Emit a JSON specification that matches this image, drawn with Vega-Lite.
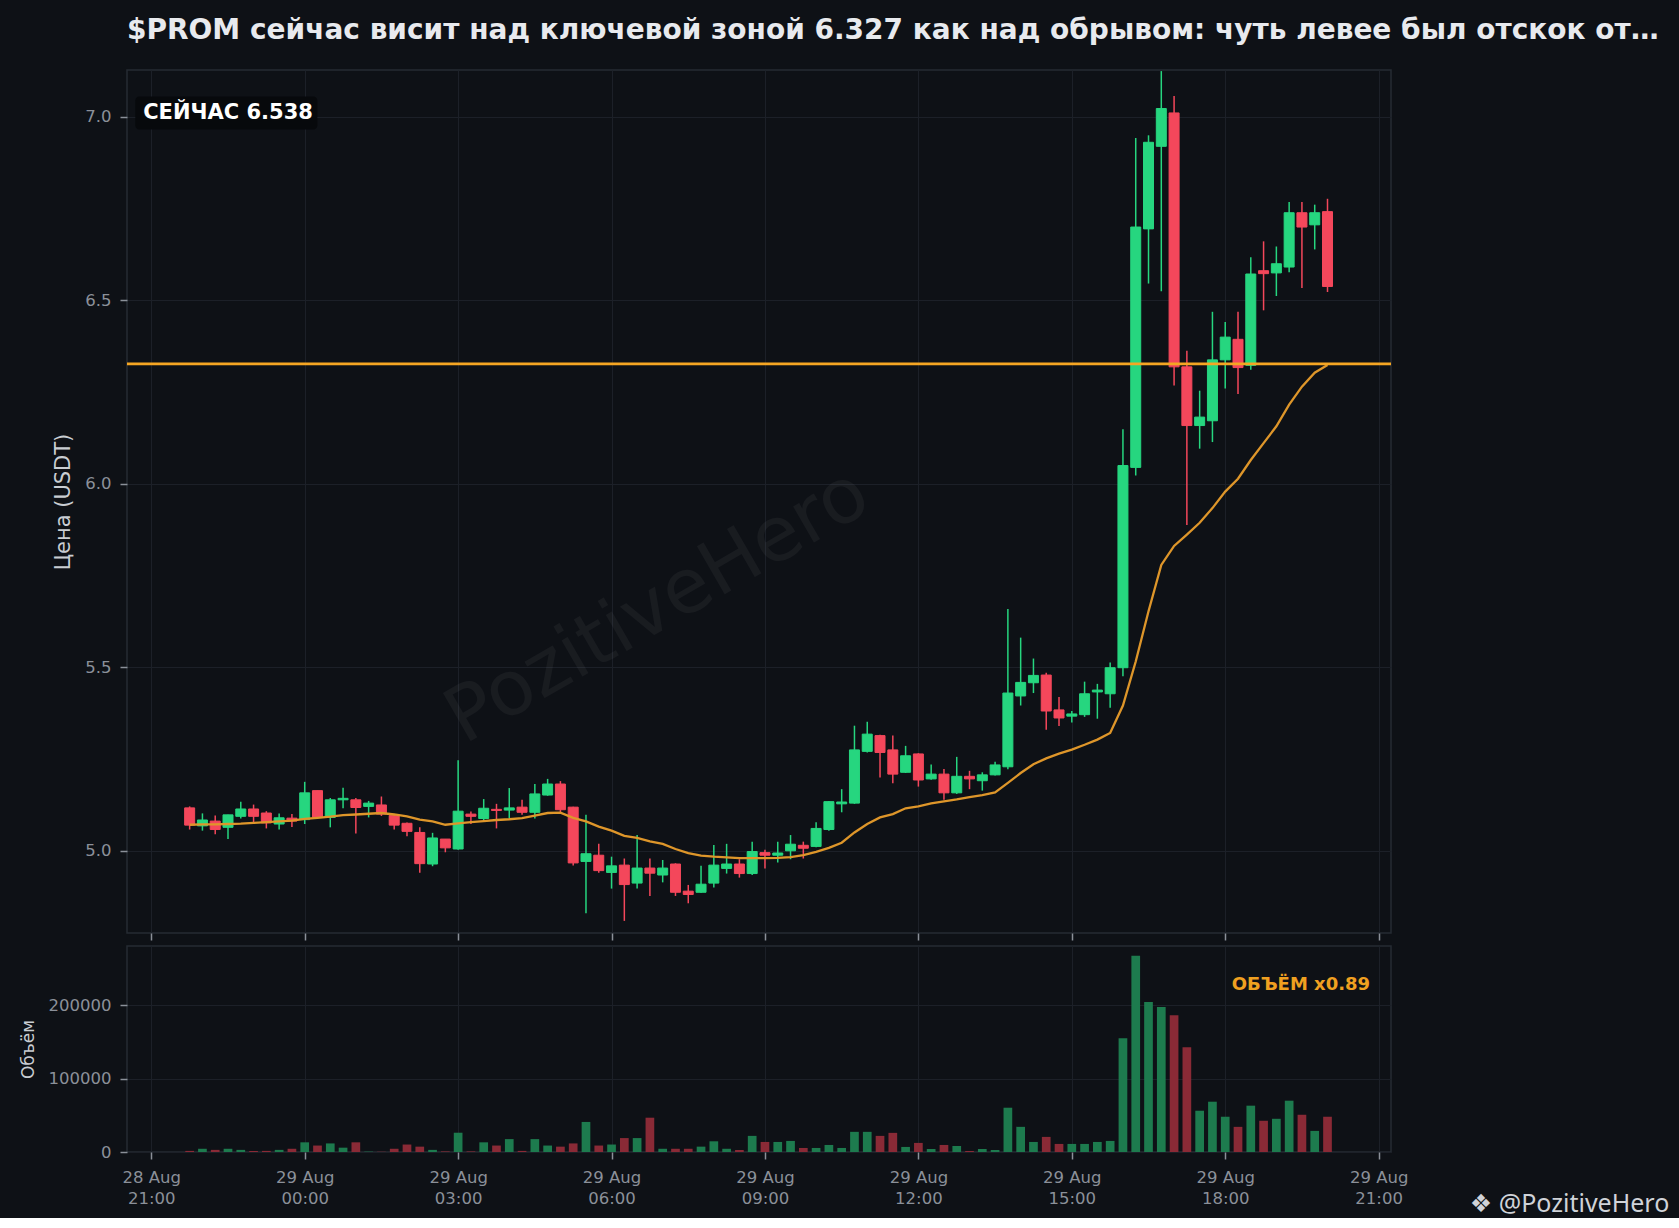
{
  "$schema": "https://vega.github.io/schema/vega-lite/v6.json",
  "background": "#0e1116",
  "padding": {"left": 18, "top": 16, "right": 12, "bottom": 0},
  "spacing": 3,
  "config": {
    "view": {"stroke": "#262b33", "strokeWidth": 1.5, "fill": "#0e1116"},
    "scale": {"continuousPadding": 0},
    "axis": {
      "domain": false,
      "labelFont": "DejaVu Sans",
      "labelFontSize": 16.5,
      "labelColor": "#8b9099",
      "tickColor": "#8b9099",
      "tickSize": 7,
      "tickWidth": 1.5,
      "labelPadding": 9,
      "labelFlush": false,
      "labelOverlap": false,
      "gridColor": "#1c2028",
      "gridWidth": 1,
      "titleFont": "DejaVu Sans",
      "titleFontWeight": "normal",
      "titleColor": "#c9cdd2",
      "titlePadding": 11
    }
  },
  "datasets": {
    "candles": [
      {"t":"2025-08-28T21:45:00Z","o":5.117,"h":5.121,"l":5.058,"c":5.070,"v":1500,"ma":5.071},
      {"t":"2025-08-28T22:00:00Z","o":5.068,"h":5.102,"l":5.055,"c":5.084,"v":4400,"ma":5.072},
      {"t":"2025-08-28T22:15:00Z","o":5.081,"h":5.096,"l":5.045,"c":5.058,"v":2900,"ma":5.072},
      {"t":"2025-08-28T22:30:00Z","o":5.064,"h":5.098,"l":5.032,"c":5.098,"v":4400,"ma":5.073},
      {"t":"2025-08-28T22:45:00Z","o":5.094,"h":5.134,"l":5.088,"c":5.114,"v":2900,"ma":5.074},
      {"t":"2025-08-28T23:00:00Z","o":5.114,"h":5.126,"l":5.078,"c":5.094,"v":1500,"ma":5.076},
      {"t":"2025-08-28T23:15:00Z","o":5.103,"h":5.108,"l":5.061,"c":5.076,"v":1500,"ma":5.078},
      {"t":"2025-08-28T23:30:00Z","o":5.073,"h":5.102,"l":5.058,"c":5.090,"v":2900,"ma":5.080},
      {"t":"2025-08-28T23:45:00Z","o":5.089,"h":5.100,"l":5.065,"c":5.081,"v":4400,"ma":5.082},
      {"t":"2025-08-29T00:00:00Z","o":5.085,"h":5.188,"l":5.073,"c":5.158,"v":13200,"ma":5.087},
      {"t":"2025-08-29T00:15:00Z","o":5.164,"h":5.164,"l":5.089,"c":5.091,"v":8800,"ma":5.090},
      {"t":"2025-08-29T00:30:00Z","o":5.091,"h":5.144,"l":5.064,"c":5.139,"v":11700,"ma":5.093},
      {"t":"2025-08-29T00:45:00Z","o":5.139,"h":5.172,"l":5.116,"c":5.143,"v":5900,"ma":5.097},
      {"t":"2025-08-29T01:00:00Z","o":5.139,"h":5.144,"l":5.047,"c":5.118,"v":13200,"ma":5.099},
      {"t":"2025-08-29T01:15:00Z","o":5.121,"h":5.136,"l":5.091,"c":5.130,"v":500,"ma":5.101},
      {"t":"2025-08-29T01:30:00Z","o":5.125,"h":5.148,"l":5.095,"c":5.100,"v":500,"ma":5.103},
      {"t":"2025-08-29T01:45:00Z","o":5.096,"h":5.097,"l":5.058,"c":5.070,"v":4400,"ma":5.099},
      {"t":"2025-08-29T02:00:00Z","o":5.075,"h":5.077,"l":5.040,"c":5.053,"v":10200,"ma":5.094},
      {"t":"2025-08-29T02:15:00Z","o":5.050,"h":5.064,"l":4.940,"c":4.965,"v":7300,"ma":5.085},
      {"t":"2025-08-29T02:30:00Z","o":4.964,"h":5.049,"l":4.958,"c":5.035,"v":2900,"ma":5.080},
      {"t":"2025-08-29T02:45:00Z","o":5.032,"h":5.032,"l":4.996,"c":5.008,"v":800,"ma":5.071},
      {"t":"2025-08-29T03:00:00Z","o":5.005,"h":5.247,"l":5.003,"c":5.108,"v":26300,"ma":5.075},
      {"t":"2025-08-29T03:15:00Z","o":5.100,"h":5.107,"l":5.073,"c":5.094,"v":800,"ma":5.078},
      {"t":"2025-08-29T03:30:00Z","o":5.088,"h":5.141,"l":5.082,"c":5.116,"v":13200,"ma":5.081},
      {"t":"2025-08-29T03:45:00Z","o":5.113,"h":5.128,"l":5.061,"c":5.110,"v":8800,"ma":5.084},
      {"t":"2025-08-29T04:00:00Z","o":5.111,"h":5.171,"l":5.088,"c":5.117,"v":17600,"ma":5.086},
      {"t":"2025-08-29T04:15:00Z","o":5.119,"h":5.139,"l":5.098,"c":5.105,"v":1500,"ma":5.089},
      {"t":"2025-08-29T04:30:00Z","o":5.105,"h":5.182,"l":5.088,"c":5.155,"v":17600,"ma":5.096},
      {"t":"2025-08-29T04:45:00Z","o":5.152,"h":5.196,"l":5.150,"c":5.182,"v":8800,"ma":5.103},
      {"t":"2025-08-29T05:00:00Z","o":5.182,"h":5.190,"l":5.105,"c":5.112,"v":7300,"ma":5.104},
      {"t":"2025-08-29T05:15:00Z","o":5.119,"h":5.120,"l":4.960,"c":4.967,"v":11700,"ma":5.090},
      {"t":"2025-08-29T05:30:00Z","o":4.971,"h":5.098,"l":4.830,"c":4.992,"v":41000,"ma":5.080},
      {"t":"2025-08-29T05:45:00Z","o":4.988,"h":5.019,"l":4.940,"c":4.946,"v":8800,"ma":5.066},
      {"t":"2025-08-29T06:00:00Z","o":4.941,"h":4.984,"l":4.897,"c":4.959,"v":10200,"ma":5.055},
      {"t":"2025-08-29T06:15:00Z","o":4.961,"h":4.979,"l":4.809,"c":4.908,"v":19000,"ma":5.041},
      {"t":"2025-08-29T06:30:00Z","o":4.912,"h":5.043,"l":4.897,"c":4.953,"v":19000,"ma":5.035},
      {"t":"2025-08-29T06:45:00Z","o":4.953,"h":4.979,"l":4.877,"c":4.939,"v":46800,"ma":5.026},
      {"t":"2025-08-29T07:00:00Z","o":4.934,"h":4.975,"l":4.914,"c":4.953,"v":4400,"ma":5.019},
      {"t":"2025-08-29T07:15:00Z","o":4.964,"h":4.966,"l":4.877,"c":4.887,"v":4400,"ma":5.005},
      {"t":"2025-08-29T07:30:00Z","o":4.890,"h":4.907,"l":4.857,"c":4.881,"v":4400,"ma":4.994},
      {"t":"2025-08-29T07:45:00Z","o":4.887,"h":4.959,"l":4.886,"c":4.909,"v":7300,"ma":4.987},
      {"t":"2025-08-29T08:00:00Z","o":4.912,"h":5.016,"l":4.900,"c":4.961,"v":14600,"ma":4.984},
      {"t":"2025-08-29T08:15:00Z","o":4.952,"h":5.019,"l":4.938,"c":4.964,"v":4400,"ma":4.982},
      {"t":"2025-08-29T08:30:00Z","o":4.964,"h":4.977,"l":4.927,"c":4.938,"v":2700,"ma":4.980},
      {"t":"2025-08-29T08:45:00Z","o":4.938,"h":5.025,"l":4.934,"c":4.998,"v":22000,"ma":4.980},
      {"t":"2025-08-29T09:00:00Z","o":4.995,"h":5.003,"l":4.952,"c":4.988,"v":13700,"ma":4.980},
      {"t":"2025-08-29T09:15:00Z","o":4.988,"h":5.025,"l":4.968,"c":4.994,"v":13700,"ma":4.981},
      {"t":"2025-08-29T09:30:00Z","o":5.000,"h":5.043,"l":4.977,"c":5.018,"v":15100,"ma":4.983},
      {"t":"2025-08-29T09:45:00Z","o":5.015,"h":5.025,"l":4.979,"c":5.007,"v":5500,"ma":4.988},
      {"t":"2025-08-29T10:00:00Z","o":5.012,"h":5.078,"l":5.010,"c":5.061,"v":5500,"ma":4.997},
      {"t":"2025-08-29T10:15:00Z","o":5.058,"h":5.136,"l":5.055,"c":5.134,"v":9600,"ma":5.008},
      {"t":"2025-08-29T10:30:00Z","o":5.128,"h":5.168,"l":5.105,"c":5.133,"v":5500,"ma":5.022},
      {"t":"2025-08-29T10:45:00Z","o":5.130,"h":5.341,"l":5.128,"c":5.275,"v":27500,"ma":5.050},
      {"t":"2025-08-29T11:00:00Z","o":5.271,"h":5.352,"l":5.268,"c":5.318,"v":27500,"ma":5.073},
      {"t":"2025-08-29T11:15:00Z","o":5.314,"h":5.316,"l":5.200,"c":5.268,"v":22000,"ma":5.091},
      {"t":"2025-08-29T11:30:00Z","o":5.275,"h":5.314,"l":5.184,"c":5.209,"v":26100,"ma":5.100},
      {"t":"2025-08-29T11:45:00Z","o":5.214,"h":5.286,"l":5.212,"c":5.259,"v":6900,"ma":5.116},
      {"t":"2025-08-29T12:00:00Z","o":5.264,"h":5.266,"l":5.175,"c":5.193,"v":12400,"ma":5.121},
      {"t":"2025-08-29T12:15:00Z","o":5.196,"h":5.235,"l":5.194,"c":5.209,"v":4100,"ma":5.129},
      {"t":"2025-08-29T12:30:00Z","o":5.209,"h":5.223,"l":5.139,"c":5.158,"v":9600,"ma":5.135},
      {"t":"2025-08-29T12:45:00Z","o":5.158,"h":5.256,"l":5.155,"c":5.203,"v":8200,"ma":5.140},
      {"t":"2025-08-29T13:00:00Z","o":5.203,"h":5.218,"l":5.168,"c":5.196,"v":1400,"ma":5.146},
      {"t":"2025-08-29T13:15:00Z","o":5.191,"h":5.214,"l":5.164,"c":5.207,"v":4100,"ma":5.152},
      {"t":"2025-08-29T13:30:00Z","o":5.207,"h":5.243,"l":5.205,"c":5.234,"v":2700,"ma":5.159},
      {"t":"2025-08-29T13:45:00Z","o":5.229,"h":5.659,"l":5.222,"c":5.430,"v":60400,"ma":5.185},
      {"t":"2025-08-29T14:00:00Z","o":5.422,"h":5.581,"l":5.396,"c":5.459,"v":34300,"ma":5.212},
      {"t":"2025-08-29T14:15:00Z","o":5.458,"h":5.524,"l":5.430,"c":5.478,"v":13700,"ma":5.236},
      {"t":"2025-08-29T14:30:00Z","o":5.479,"h":5.485,"l":5.330,"c":5.381,"v":20600,"ma":5.252},
      {"t":"2025-08-29T14:45:00Z","o":5.384,"h":5.419,"l":5.340,"c":5.362,"v":11000,"ma":5.265},
      {"t":"2025-08-29T15:00:00Z","o":5.367,"h":5.381,"l":5.350,"c":5.373,"v":11000,"ma":5.276},
      {"t":"2025-08-29T15:15:00Z","o":5.371,"h":5.461,"l":5.365,"c":5.428,"v":11000,"ma":5.289},
      {"t":"2025-08-29T15:30:00Z","o":5.433,"h":5.455,"l":5.360,"c":5.438,"v":13700,"ma":5.303},
      {"t":"2025-08-29T15:45:00Z","o":5.428,"h":5.513,"l":5.390,"c":5.499,"v":15100,"ma":5.321},
      {"t":"2025-08-29T16:00:00Z","o":5.499,"h":6.149,"l":5.476,"c":6.050,"v":155100,"ma":5.396},
      {"t":"2025-08-29T16:15:00Z","o":6.045,"h":6.943,"l":6.023,"c":6.700,"v":267700,"ma":5.516},
      {"t":"2025-08-29T16:30:00Z","o":6.695,"h":6.950,"l":6.546,"c":6.931,"v":204600,"ma":5.653},
      {"t":"2025-08-29T16:45:00Z","o":6.920,"h":7.125,"l":6.525,"c":7.023,"v":197700,"ma":5.779},
      {"t":"2025-08-29T17:00:00Z","o":7.011,"h":7.057,"l":6.268,"c":6.319,"v":186700,"ma":5.831},
      {"t":"2025-08-29T17:15:00Z","o":6.319,"h":6.363,"l":5.888,"c":6.159,"v":142800,"ma":5.862},
      {"t":"2025-08-29T17:30:00Z","o":6.159,"h":6.254,"l":6.096,"c":6.182,"v":56300,"ma":5.894},
      {"t":"2025-08-29T17:45:00Z","o":6.172,"h":6.469,"l":6.114,"c":6.338,"v":68600,"ma":5.934},
      {"t":"2025-08-29T18:00:00Z","o":6.338,"h":6.441,"l":6.260,"c":6.400,"v":48100,"ma":5.979},
      {"t":"2025-08-29T18:15:00Z","o":6.394,"h":6.469,"l":6.245,"c":6.317,"v":34300,"ma":6.014},
      {"t":"2025-08-29T18:30:00Z","o":6.323,"h":6.618,"l":6.311,"c":6.572,"v":63200,"ma":6.065},
      {"t":"2025-08-29T18:45:00Z","o":6.581,"h":6.661,"l":6.473,"c":6.573,"v":42600,"ma":6.111},
      {"t":"2025-08-29T19:00:00Z","o":6.575,"h":6.647,"l":6.512,"c":6.600,"v":45300,"ma":6.157},
      {"t":"2025-08-29T19:15:00Z","o":6.591,"h":6.768,"l":6.577,"c":6.739,"v":70000,"ma":6.216},
      {"t":"2025-08-29T19:30:00Z","o":6.739,"h":6.768,"l":6.534,"c":6.700,"v":50800,"ma":6.265},
      {"t":"2025-08-29T19:45:00Z","o":6.706,"h":6.761,"l":6.639,"c":6.739,"v":28800,"ma":6.303},
      {"t":"2025-08-29T20:00:00Z","o":6.742,"h":6.777,"l":6.523,"c":6.538,"v":48100,"ma":6.324}
    ]
  },
  "vconcat": [
    {
      "width": 1264,
      "height": 863,
      "title": {
        "text": "$PROM сейчас висит над ключевой зоной 6.327 как над обрывом: чуть левее был отскок от…",
        "anchor": "start",
        "frame": "group",
        "font": "DejaVu Sans",
        "fontSize": 28,
        "fontWeight": "bold",
        "color": "#e8eaee",
        "baseline": "alphabetic",
        "offset": 3,
        "limit": 1600
      },
      "layer": [
        {
          "data": {"values": [{"t": "2025-08-29T06:54:00Z", "p": 5.666, "label": "PozitiveHero"}]},
          "mark": {"type": "text", "angle": -30, "fontSize": 76, "font": "DejaVu Sans", "color": "#ffffff", "opacity": 0.045, "align": "center", "baseline": "middle"},
          "encoding": {
            "x": {"field": "t", "type": "temporal", "scale": {"type": "utc", "nice": false, "padding": 0, "domain": [{"year":2025,"month":"aug","date":28,"hours":20,"minutes":31,"seconds":30,"utc":true},{"year":2025,"month":"aug","date":29,"hours":21,"minutes":14,"seconds":30,"utc":true}]},
              "axis": {"values": [{"year":2025,"month":"aug","date":28,"hours":21,"utc":true},{"year":2025,"month":"aug","date":29,"hours":0,"utc":true},{"year":2025,"month":"aug","date":29,"hours":3,"utc":true},{"year":2025,"month":"aug","date":29,"hours":6,"utc":true},{"year":2025,"month":"aug","date":29,"hours":9,"utc":true},{"year":2025,"month":"aug","date":29,"hours":12,"utc":true},{"year":2025,"month":"aug","date":29,"hours":15,"utc":true},{"year":2025,"month":"aug","date":29,"hours":18,"utc":true},{"year":2025,"month":"aug","date":29,"hours":21,"utc":true}], "labels": false, "title": null, "grid": true, "ticks": true}},
            "y": {"field": "p", "type": "quantitative", "scale": {"domain": [4.776, 7.128], "nice": false, "zero": false},
              "axis": {"values": [5, 5.5, 6, 6.5, 7], "format": ".1f", "title": "Цена (USDT)", "titleFontSize": 21, "grid": true}},
            "text": {"field": "label"}
          }
        },
        {
          "data": {"name": "candles"},
          "mark": {"type": "rule", "strokeWidth": 1.5},
          "encoding": {
            "x": {"field": "t", "type": "temporal", "scale": {"type": "utc", "nice": false, "padding": 0, "domain": [{"year":2025,"month":"aug","date":28,"hours":20,"minutes":31,"seconds":30,"utc":true},{"year":2025,"month":"aug","date":29,"hours":21,"minutes":14,"seconds":30,"utc":true}]},
              "axis": {"values": [{"year":2025,"month":"aug","date":28,"hours":21,"utc":true},{"year":2025,"month":"aug","date":29,"hours":0,"utc":true},{"year":2025,"month":"aug","date":29,"hours":3,"utc":true},{"year":2025,"month":"aug","date":29,"hours":6,"utc":true},{"year":2025,"month":"aug","date":29,"hours":9,"utc":true},{"year":2025,"month":"aug","date":29,"hours":12,"utc":true},{"year":2025,"month":"aug","date":29,"hours":15,"utc":true},{"year":2025,"month":"aug","date":29,"hours":18,"utc":true},{"year":2025,"month":"aug","date":29,"hours":21,"utc":true}], "labels": false, "title": null, "grid": true, "ticks": true}},
            "y": {"field": "l", "type": "quantitative", "scale": {"domain": [4.776, 7.128], "nice": false, "zero": false},
              "axis": {"values": [5, 5.5, 6, 6.5, 7], "format": ".1f", "title": "Цена (USDT)", "titleFontSize": 21, "grid": true}},
            "y2": {"field": "h"},
            "color": {"condition": {"test": "datum.c >= datum.o", "value": "#26d67f"}, "value": "#f4475b"}
          }
        },
        {
          "data": {"name": "candles"},
          "mark": {"type": "bar", "size": 10, "strokeWidth": 1},
          "encoding": {
            "x": {"field": "t", "type": "temporal", "scale": {"type": "utc", "nice": false, "padding": 0, "domain": [{"year":2025,"month":"aug","date":28,"hours":20,"minutes":31,"seconds":30,"utc":true},{"year":2025,"month":"aug","date":29,"hours":21,"minutes":14,"seconds":30,"utc":true}]},
              "axis": {"values": [{"year":2025,"month":"aug","date":28,"hours":21,"utc":true},{"year":2025,"month":"aug","date":29,"hours":0,"utc":true},{"year":2025,"month":"aug","date":29,"hours":3,"utc":true},{"year":2025,"month":"aug","date":29,"hours":6,"utc":true},{"year":2025,"month":"aug","date":29,"hours":9,"utc":true},{"year":2025,"month":"aug","date":29,"hours":12,"utc":true},{"year":2025,"month":"aug","date":29,"hours":15,"utc":true},{"year":2025,"month":"aug","date":29,"hours":18,"utc":true},{"year":2025,"month":"aug","date":29,"hours":21,"utc":true}], "labels": false, "title": null, "grid": true, "ticks": true}},
            "y": {"field": "o", "type": "quantitative", "scale": {"domain": [4.776, 7.128], "nice": false, "zero": false},
              "axis": {"values": [5, 5.5, 6, 6.5, 7], "format": ".1f", "title": "Цена (USDT)", "titleFontSize": 21, "grid": true}},
            "y2": {"field": "c"},
            "color": {"condition": {"test": "datum.c >= datum.o", "value": "#26d67f"}, "value": "#f4475b"},
            "stroke": {"condition": {"test": "datum.c >= datum.o", "value": "#26d67f"}, "value": "#f4475b"}
          }
        },
        {
          "data": {"name": "candles"},
          "mark": {"type": "line", "color": "#de962a", "strokeWidth": 2.3},
          "encoding": {
            "x": {"field": "t", "type": "temporal", "scale": {"type": "utc", "nice": false, "padding": 0, "domain": [{"year":2025,"month":"aug","date":28,"hours":20,"minutes":31,"seconds":30,"utc":true},{"year":2025,"month":"aug","date":29,"hours":21,"minutes":14,"seconds":30,"utc":true}]},
              "axis": {"values": [{"year":2025,"month":"aug","date":28,"hours":21,"utc":true},{"year":2025,"month":"aug","date":29,"hours":0,"utc":true},{"year":2025,"month":"aug","date":29,"hours":3,"utc":true},{"year":2025,"month":"aug","date":29,"hours":6,"utc":true},{"year":2025,"month":"aug","date":29,"hours":9,"utc":true},{"year":2025,"month":"aug","date":29,"hours":12,"utc":true},{"year":2025,"month":"aug","date":29,"hours":15,"utc":true},{"year":2025,"month":"aug","date":29,"hours":18,"utc":true},{"year":2025,"month":"aug","date":29,"hours":21,"utc":true}], "labels": false, "title": null, "grid": true, "ticks": true}},
            "y": {"field": "ma", "type": "quantitative", "scale": {"domain": [4.776, 7.128], "nice": false, "zero": false},
              "axis": {"values": [5, 5.5, 6, 6.5, 7], "format": ".1f", "title": "Цена (USDT)", "titleFontSize": 21, "grid": true}}
          }
        },
        {
          "data": {"values": [{"level": 6.327}]},
          "mark": {"type": "rule", "color": "#f5a623", "strokeWidth": 2.8},
          "encoding": {
            "y": {"field": "level", "type": "quantitative", "scale": {"domain": [4.776, 7.128], "nice": false, "zero": false},
              "axis": {"values": [5, 5.5, 6, 6.5, 7], "format": ".1f", "title": "Цена (USDT)", "titleFontSize": 21, "grid": true}}
          }
        },
        {
          "data": {"values": [{"t": "2025-08-28T20:41:15Z", "t2": "2025-08-29T00:14:48Z", "p": 7.056, "p2": 6.966}]},
          "mark": {"type": "rect", "color": "#07090c", "cornerRadius": 4},
          "encoding": {
            "x": {"field": "t", "type": "temporal", "scale": {"type": "utc", "nice": false, "padding": 0, "domain": [{"year":2025,"month":"aug","date":28,"hours":20,"minutes":31,"seconds":30,"utc":true},{"year":2025,"month":"aug","date":29,"hours":21,"minutes":14,"seconds":30,"utc":true}]},
              "axis": {"values": [{"year":2025,"month":"aug","date":28,"hours":21,"utc":true},{"year":2025,"month":"aug","date":29,"hours":0,"utc":true},{"year":2025,"month":"aug","date":29,"hours":3,"utc":true},{"year":2025,"month":"aug","date":29,"hours":6,"utc":true},{"year":2025,"month":"aug","date":29,"hours":9,"utc":true},{"year":2025,"month":"aug","date":29,"hours":12,"utc":true},{"year":2025,"month":"aug","date":29,"hours":15,"utc":true},{"year":2025,"month":"aug","date":29,"hours":18,"utc":true},{"year":2025,"month":"aug","date":29,"hours":21,"utc":true}], "labels": false, "title": null, "grid": true, "ticks": true}},
            "x2": {"field": "t2"},
            "y": {"field": "p", "type": "quantitative", "scale": {"domain": [4.776, 7.128], "nice": false, "zero": false},
              "axis": {"values": [5, 5.5, 6, 6.5, 7], "format": ".1f", "title": "Цена (USDT)", "titleFontSize": 21, "grid": true}},
            "y2": {"field": "p2"}
          }
        },
        {
          "data": {"values": [{"t": "2025-08-28T20:50:30Z", "p": 7.012, "label": "СЕЙЧАС 6.538"}]},
          "mark": {"type": "text", "font": "DejaVu Sans", "fontSize": 21, "fontWeight": "bold", "color": "#ffffff", "align": "left", "baseline": "middle"},
          "encoding": {
            "x": {"field": "t", "type": "temporal", "scale": {"type": "utc", "nice": false, "padding": 0, "domain": [{"year":2025,"month":"aug","date":28,"hours":20,"minutes":31,"seconds":30,"utc":true},{"year":2025,"month":"aug","date":29,"hours":21,"minutes":14,"seconds":30,"utc":true}]},
              "axis": {"values": [{"year":2025,"month":"aug","date":28,"hours":21,"utc":true},{"year":2025,"month":"aug","date":29,"hours":0,"utc":true},{"year":2025,"month":"aug","date":29,"hours":3,"utc":true},{"year":2025,"month":"aug","date":29,"hours":6,"utc":true},{"year":2025,"month":"aug","date":29,"hours":9,"utc":true},{"year":2025,"month":"aug","date":29,"hours":12,"utc":true},{"year":2025,"month":"aug","date":29,"hours":15,"utc":true},{"year":2025,"month":"aug","date":29,"hours":18,"utc":true},{"year":2025,"month":"aug","date":29,"hours":21,"utc":true}], "labels": false, "title": null, "grid": true, "ticks": true}},
            "y": {"field": "p", "type": "quantitative", "scale": {"domain": [4.776, 7.128], "nice": false, "zero": false},
              "axis": {"values": [5, 5.5, 6, 6.5, 7], "format": ".1f", "title": "Цена (USDT)", "titleFontSize": 21, "grid": true}},
            "text": {"field": "label"}
          }
        }
      ]
    },
    {
      "width": 1264,
      "height": 206,
      "layer": [
        {
          "data": {"name": "candles"},
          "mark": {"type": "bar", "size": 8.7},
          "encoding": {
            "x": {"field": "t", "type": "temporal", "scale": {"type": "utc", "nice": false, "padding": 0, "domain": [{"year":2025,"month":"aug","date":28,"hours":20,"minutes":31,"seconds":30,"utc":true},{"year":2025,"month":"aug","date":29,"hours":21,"minutes":14,"seconds":30,"utc":true}]},
              "axis": {"values": [{"year":2025,"month":"aug","date":28,"hours":21,"utc":true},{"year":2025,"month":"aug","date":29,"hours":0,"utc":true},{"year":2025,"month":"aug","date":29,"hours":3,"utc":true},{"year":2025,"month":"aug","date":29,"hours":6,"utc":true},{"year":2025,"month":"aug","date":29,"hours":9,"utc":true},{"year":2025,"month":"aug","date":29,"hours":12,"utc":true},{"year":2025,"month":"aug","date":29,"hours":15,"utc":true},{"year":2025,"month":"aug","date":29,"hours":18,"utc":true},{"year":2025,"month":"aug","date":29,"hours":21,"utc":true}],
                "labelExpr": "[utcFormat(datum.value, '%d %b'), utcFormat(datum.value, '%H:%M')]",
                "labelLineHeight": 21, "labelPadding": 10, "title": null, "grid": true, "ticks": true}},
            "y": {"field": "v", "type": "quantitative", "scale": {"domain": [0, 281000], "nice": false},
              "axis": {"values": [0, 100000, 200000], "format": "d", "title": "Объём", "titleFontSize": 17, "grid": true}},
            "color": {"condition": {"test": "datum.c >= datum.o", "value": "#1d7b4e"}, "value": "#8a2a36"}
          }
        },
        {
          "data": {"values": [{"t": "2025-08-29T20:50:00Z", "v": 228000, "label": "ОБЪЁМ x0.89"}]},
          "mark": {"type": "text", "font": "DejaVu Sans", "fontSize": 18, "fontWeight": "bold", "color": "#f0a020", "align": "right", "baseline": "middle"},
          "encoding": {
            "x": {"field": "t", "type": "temporal", "scale": {"type": "utc", "nice": false, "padding": 0, "domain": [{"year":2025,"month":"aug","date":28,"hours":20,"minutes":31,"seconds":30,"utc":true},{"year":2025,"month":"aug","date":29,"hours":21,"minutes":14,"seconds":30,"utc":true}]},
              "axis": {"values": [{"year":2025,"month":"aug","date":28,"hours":21,"utc":true},{"year":2025,"month":"aug","date":29,"hours":0,"utc":true},{"year":2025,"month":"aug","date":29,"hours":3,"utc":true},{"year":2025,"month":"aug","date":29,"hours":6,"utc":true},{"year":2025,"month":"aug","date":29,"hours":9,"utc":true},{"year":2025,"month":"aug","date":29,"hours":12,"utc":true},{"year":2025,"month":"aug","date":29,"hours":15,"utc":true},{"year":2025,"month":"aug","date":29,"hours":18,"utc":true},{"year":2025,"month":"aug","date":29,"hours":21,"utc":true}],
                "labelExpr": "[utcFormat(datum.value, '%d %b'), utcFormat(datum.value, '%H:%M')]",
                "labelLineHeight": 21, "labelPadding": 10, "title": null, "grid": true, "ticks": true}},
            "y": {"field": "v", "type": "quantitative", "scale": {"domain": [0, 281000], "nice": false},
              "axis": {"values": [0, 100000, 200000], "format": "d", "title": "Объём", "titleFontSize": 17, "grid": true}},
            "text": {"field": "label"}
          }
        },
        {
          "data": {"values": [{"t": "2025-08-29T22:47:00Z", "v": -70600, "label": "❖ @PozitiveHero"}]},
          "mark": {"type": "text", "font": "Noto Sans, DejaVu Sans", "fontSize": 25, "color": "#d0d3d8", "align": "left", "baseline": "middle"},
          "encoding": {
            "x": {"field": "t", "type": "temporal", "scale": {"type": "utc", "nice": false, "padding": 0, "domain": [{"year":2025,"month":"aug","date":28,"hours":20,"minutes":31,"seconds":30,"utc":true},{"year":2025,"month":"aug","date":29,"hours":21,"minutes":14,"seconds":30,"utc":true}]},
              "axis": {"values": [{"year":2025,"month":"aug","date":28,"hours":21,"utc":true},{"year":2025,"month":"aug","date":29,"hours":0,"utc":true},{"year":2025,"month":"aug","date":29,"hours":3,"utc":true},{"year":2025,"month":"aug","date":29,"hours":6,"utc":true},{"year":2025,"month":"aug","date":29,"hours":9,"utc":true},{"year":2025,"month":"aug","date":29,"hours":12,"utc":true},{"year":2025,"month":"aug","date":29,"hours":15,"utc":true},{"year":2025,"month":"aug","date":29,"hours":18,"utc":true},{"year":2025,"month":"aug","date":29,"hours":21,"utc":true}],
                "labelExpr": "[utcFormat(datum.value, '%d %b'), utcFormat(datum.value, '%H:%M')]",
                "labelLineHeight": 21, "labelPadding": 10, "title": null, "grid": true, "ticks": true}},
            "y": {"field": "v", "type": "quantitative", "scale": {"domain": [0, 281000], "nice": false},
              "axis": {"values": [0, 100000, 200000], "format": "d", "title": "Объём", "titleFontSize": 17, "grid": true}},
            "text": {"field": "label"}
          }
        }
      ]
    }
  ]
}
